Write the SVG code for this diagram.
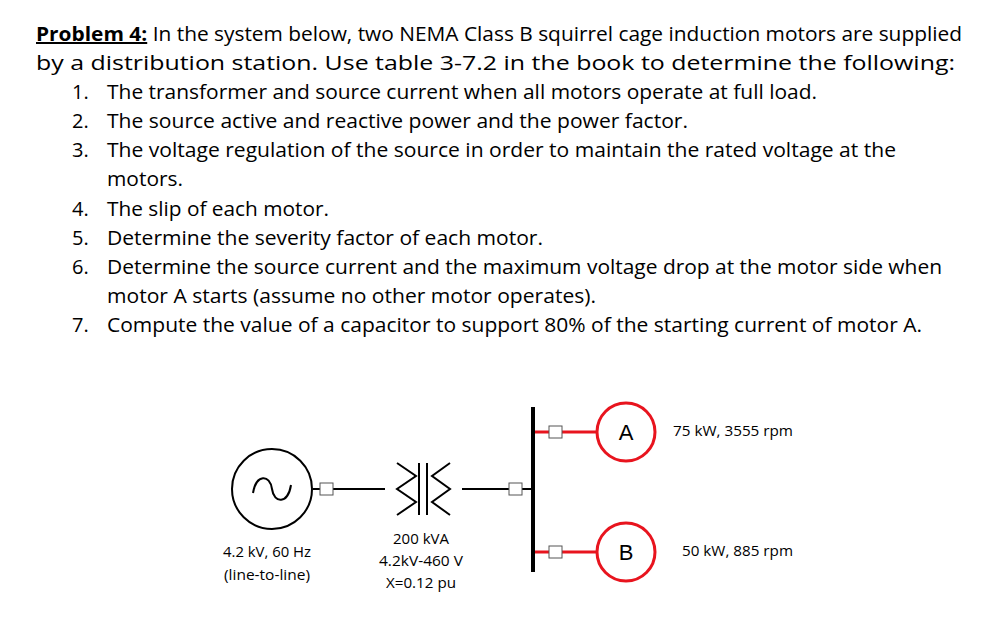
<svg xmlns="http://www.w3.org/2000/svg" width="982" height="636" viewBox="0 0 982 636">
<style>
.t{font-family:"Open Sans","Liberation Sans",sans-serif;font-size:20px;fill:#000}
.s{font-family:"Open Sans","Liberation Sans",sans-serif;font-size:14px;fill:#000}
.k{stroke:#000;stroke-width:2;fill:none}
.r{stroke:#e8141e;stroke-width:3;fill:none}
.sq{fill:#fff;stroke:#555;stroke-width:1}
</style>
<rect width="982" height="636" fill="#fff"/>
<g id="text">
<text class="t" x="36" y="41" textLength="926" lengthAdjust="spacingAndGlyphs"><tspan font-weight="bold" text-decoration="underline">Problem 4:</tspan> In the system below, two NEMA Class B squirrel cage induction motors are supplied</text>
<text class="t" x="36" y="70" textLength="919" lengthAdjust="spacingAndGlyphs">by a distribution station. Use table 3-7.2 in the book to determine the following:</text>
<text class="t" x="72" y="99">1.</text><text class="t" x="107" y="99" textLength="710" lengthAdjust="spacingAndGlyphs">The transformer and source current when all motors operate at full load.</text>
<text class="t" x="72" y="128">2.</text><text class="t" x="107" y="128" textLength="581" lengthAdjust="spacingAndGlyphs">The source active and reactive power and the power factor.</text>
<text class="t" x="72" y="157">3.</text><text class="t" x="107" y="157" textLength="789" lengthAdjust="spacingAndGlyphs">The voltage regulation of the source in order to maintain the rated voltage at the</text>
<text class="t" x="107" y="186" textLength="76" lengthAdjust="spacingAndGlyphs">motors.</text>
<text class="t" x="72" y="216">4.</text><text class="t" x="107" y="216" textLength="222" lengthAdjust="spacingAndGlyphs">The slip of each motor.</text>
<text class="t" x="72" y="245">5.</text><text class="t" x="107" y="245" textLength="436" lengthAdjust="spacingAndGlyphs">Determine the severity factor of each motor.</text>
<text class="t" x="72" y="274">6.</text><text class="t" x="107" y="274" textLength="835" lengthAdjust="spacingAndGlyphs">Determine the source current and the maximum voltage drop at the motor side when</text>
<text class="t" x="107" y="303" textLength="489" lengthAdjust="spacingAndGlyphs">motor A starts (assume no other motor operates).</text>
<text class="t" x="72" y="332">7.</text><text class="t" x="107" y="332" textLength="815" lengthAdjust="spacingAndGlyphs">Compute the value of a capacitor to support 80% of the starting current of motor A.</text>
</g>
<g id="connectors">
<line class="k" x1="313" y1="489" x2="385" y2="489"/>
<line class="k" x1="462" y1="489" x2="533" y2="489"/>
<line class="r" x1="533" y1="432" x2="596" y2="432"/>
<line class="r" x1="533" y1="552" x2="596" y2="552"/>
</g>
<g id="source">
<circle class="k" cx="272" cy="489" r="40" stroke-width="3"/>
<path class="k" d="M253 493 C256 474 270 474 272 489 C274 504 288 504 291 485" stroke-width="2.5"/>
<rect class="sq" x="320" y="483" width="13" height="12"/>
<text class="s" x="267" y="557" text-anchor="middle" textLength="88" lengthAdjust="spacingAndGlyphs">4.2 kV, 60 Hz</text>
<text class="s" x="267" y="580" text-anchor="middle" textLength="86" lengthAdjust="spacingAndGlyphs">(line-to-line)</text>
</g>
<g id="transformer">
<path class="k" d="M397 463 L416 476 L397 489 L416 502 L397 515"/>
<line class="k" x1="419" y1="463" x2="419" y2="515"/>
<line class="k" x1="427" y1="463" x2="427" y2="515"/>
<path class="k" d="M450 463 L432 476 L450 489 L432 502 L450 515"/>
<text class="s" x="421" y="544" text-anchor="middle" textLength="56" lengthAdjust="spacingAndGlyphs">200 kVA</text>
<text class="s" x="421" y="566" text-anchor="middle" textLength="84" lengthAdjust="spacingAndGlyphs">4.2kV-460 V</text>
<text class="s" x="421" y="588" text-anchor="middle" textLength="70" lengthAdjust="spacingAndGlyphs">X=0.12 pu</text>
</g>
<g id="bus">
<line x1="533" y1="407" x2="533" y2="572" stroke="#000" stroke-width="4"/>
<rect class="sq" x="509" y="483" width="13" height="12"/>
</g>
<g id="motorA">
<rect class="sq" x="549" y="426" width="13" height="12"/>
<circle class="r" cx="626" cy="432" r="29"/>
<text x="626" y="440" text-anchor="middle" font-family="Liberation Sans,sans-serif" font-size="22">A</text>
<text class="s" x="673" y="436" textLength="120" lengthAdjust="spacingAndGlyphs">75 kW, 3555 rpm</text>
</g>
<g id="motorB">
<rect class="sq" x="549" y="546" width="13" height="12"/>
<circle class="r" cx="626" cy="552" r="29"/>
<text x="626" y="560" text-anchor="middle" font-family="Liberation Sans,sans-serif" font-size="22">B</text>
<text class="s" x="682" y="556" textLength="111" lengthAdjust="spacingAndGlyphs">50 kW, 885 rpm</text>
</g>
</svg>
